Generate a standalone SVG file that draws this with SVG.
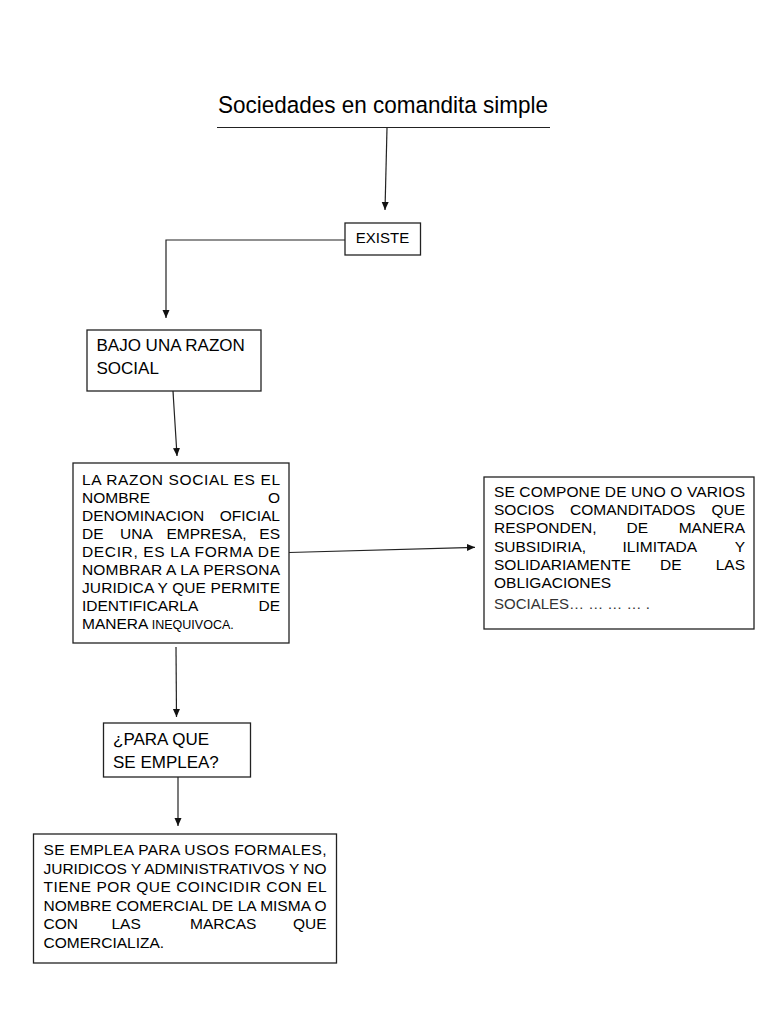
<svg xmlns="http://www.w3.org/2000/svg" width="768" height="1024" viewBox="0 0 768 1024">
<style>
.box{fill:#fff;stroke:#222;stroke-width:1.3}
.t{font-family:"Liberation Sans",Arial,sans-serif;fill:#000}
.s{font-size:15.5px}
.m{font-size:17px}
.e{text-anchor:end}
.c{fill:none;stroke:#222;stroke-width:1.2}
</style>
<defs>
<marker id="ah" markerUnits="userSpaceOnUse" markerWidth="9" markerHeight="8" refX="8" refY="3.5" orient="auto">
<path d="M0,0 L8,3.5 L0,7 z" fill="#111"/>
</marker>
</defs>
<rect width="768" height="1024" fill="#fff"/>

<g id="title">
<text class="t" x="218" y="113" font-size="24.5" textLength="330" lengthAdjust="spacingAndGlyphs" fill="#111">Sociedades en comandita simple</text>
<line x1="217" y1="127.5" x2="550" y2="127.5" stroke="#222" stroke-width="1.2"/>
</g>

<g id="connectors">
<line class="c" x1="387" y1="128" x2="385" y2="210" marker-end="url(#ah)"/>
<polyline class="c" points="345,240 166,240 166,318" marker-end="url(#ah)"/>
<line class="c" x1="173" y1="391" x2="177" y2="456" marker-end="url(#ah)"/>
<line class="c" x1="289" y1="552.5" x2="475" y2="547.3" marker-end="url(#ah)"/>
<line class="c" x1="176" y1="647" x2="176.5" y2="717" marker-end="url(#ah)"/>
<line class="c" x1="178" y1="777" x2="178" y2="826" marker-end="url(#ah)"/>
</g>

<g id="existe">
<rect class="box" x="345" y="223" width="75.5" height="32"/>
<text class="t" x="382.5" y="243" font-size="15" text-anchor="middle">EXISTE</text>
</g>

<g id="bajo">
<rect class="box" x="87" y="330" width="174" height="61"/>
<text class="t m" x="96.5" y="351">BAJO UNA RAZON</text>
<text class="t m" x="96.5" y="373.5">SOCIAL</text>
</g>

<g id="razon">
<rect class="box" x="73" y="463" width="216" height="180"/>
<g class="t s">
<text x="82" y="485" textLength="198" lengthAdjust="spacing">LA RAZON SOCIAL ES EL</text>
<text x="82" y="503">NOMBRE</text><text class="e" x="280" y="503">O</text>
<text x="82" y="521">DENOMINACION</text><text class="e" x="280" y="521">OFICIAL</text>
<text x="82" y="539">DE</text><text x="120" y="539">UNA</text><text x="166.5" y="539">EMPRESA,</text><text class="e" x="280" y="539">ES</text>
<text x="82" y="557" textLength="198" lengthAdjust="spacing">DECIR, ES LA FORMA DE</text>
<text x="82" y="575" textLength="198" lengthAdjust="spacing">NOMBRAR A LA PERSONA</text>
<text x="82" y="593" textLength="198" lengthAdjust="spacing">JURIDICA Y QUE PERMITE</text>
<text x="82" y="611">IDENTIFICARLA</text><text class="e" x="280" y="611">DE</text>
<text x="82" y="629">MANERA <tspan font-size="12.5">INEQUIVOCA.</tspan></text>
</g>
</g>

<g id="compone">
<rect class="box" x="484" y="477" width="270" height="152"/>
<g class="t s">
<text x="494" y="497" textLength="251" lengthAdjust="spacing">SE COMPONE DE UNO O VARIOS</text>
<text x="494" y="515">SOCIOS</text><text x="570" y="515">COMANDITADOS</text><text class="e" x="745" y="515">QUE</text>
<text x="494" y="533">RESPONDEN,</text><text x="626.5" y="533">DE</text><text class="e" x="745" y="533">MANERA</text>
<text x="494" y="551.5">SUBSIDIRIA,</text><text x="622.5" y="551.5">ILIMITADA</text><text class="e" x="745" y="551.5">Y</text>
<text x="494" y="570">SOLIDARIAMENTE</text><text x="660" y="570">DE</text><text class="e" x="745" y="570">LAS</text>
<text x="494" y="588">OBLIGACIONES</text>
<text x="494" y="609" fill="#333" font-size="15">SOCIALES… … … … .</text>
</g>
</g>

<g id="para">
<rect class="box" x="103.5" y="723" width="147" height="54"/>
<text class="t m" x="113" y="745">¿PARA QUE</text>
<text class="t m" x="113" y="768">SE EMPLEA?</text>
</g>

<g id="emplea">
<rect class="box" x="33.5" y="834" width="303" height="129"/>
<g class="t s">
<text x="43.5" y="855" textLength="283" lengthAdjust="spacing">SE EMPLEA PARA USOS FORMALES,</text>
<text x="43.5" y="873.5" textLength="283" lengthAdjust="spacing">JURIDICOS Y ADMINISTRATIVOS Y NO</text>
<text x="43.5" y="892" textLength="283" lengthAdjust="spacing">TIENE POR QUE COINCIDIR CON EL</text>
<text x="43.5" y="910.5" textLength="283" lengthAdjust="spacing">NOMBRE COMERCIAL DE LA MISMA O</text>
<text x="43.5" y="929">CON</text><text x="111.5" y="929">LAS</text><text x="190" y="929">MARCAS</text><text class="e" x="326.5" y="929">QUE</text>
<text x="43.5" y="947.5">COMERCIALIZA.</text>
</g>
</g>
</svg>
